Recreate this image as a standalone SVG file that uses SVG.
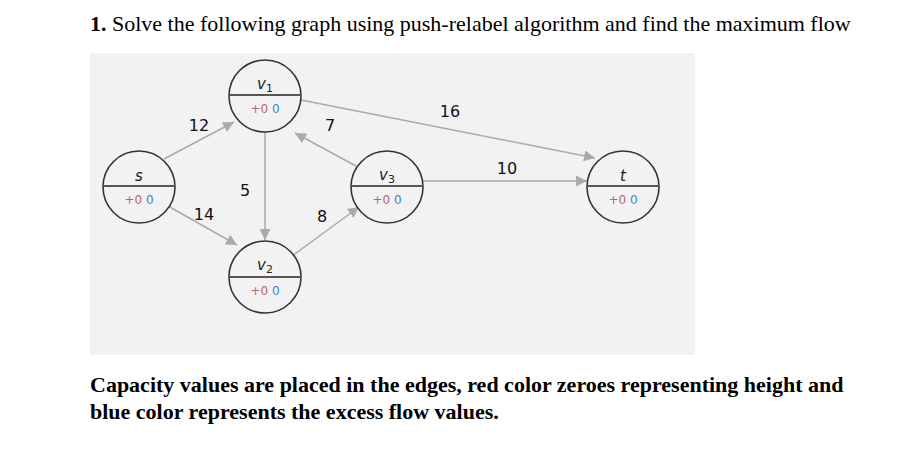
<svg xmlns="http://www.w3.org/2000/svg" width="924" height="465" viewBox="0 0 924 465">
<style>
.n{fill:#f2f2f2;stroke:#333;stroke-width:1.6}
.d{stroke:#555;stroke-width:2}
.lb{font-family:"DejaVu Sans",sans-serif;font-size:15px;font-style:italic;fill:#222;text-anchor:middle}
.h{font-family:"DejaVu Sans",sans-serif;font-size:12px;text-anchor:middle}
.e{stroke:#aaa;stroke-width:1.5;fill:none;marker-end:url(#a)}
.w{font-family:"DejaVu Sans",sans-serif;font-size:16px;fill:#111;text-anchor:middle}
.t{font-family:"Liberation Serif",serif;font-size:22px;fill:#000}
</style>
<defs><marker id="a" viewBox="0 0 10 10" refX="10" refY="5" markerWidth="11" markerHeight="11" markerUnits="userSpaceOnUse" orient="auto"><path d="M0,0L10,5L0,10z" fill="#aaa"/></marker></defs>
<rect width="924" height="465" fill="#fff"/>
<text class="t" x="90" y="31"><tspan font-weight="bold">1.</tspan> Solve the following graph using push-relabel algorithm and find the maximum flow</text>
<rect x="90" y="53" width="605" height="302" fill="#f2f2f2"/>
<g id="edges">
<path class="e" d="M164,159L234,122"/>
<path class="e" d="M168,206L237,245"/>
<path class="e" d="M265,132V240"/>
<path class="e" d="M356,166L295,133"/>
<path class="e" d="M292,256L359,207"/>
<path class="e" d="M301,100L595,158"/>
<path class="e" d="M423,181H587"/>
<text class="w" x="199" y="131">12</text>
<text class="w" x="204" y="220">14</text>
<text class="w" x="245" y="196">5</text>
<text class="w" x="330" y="131">7</text>
<text class="w" x="322" y="222">8</text>
<text class="w" x="450" y="117">16</text>
<text class="w" x="507" y="174">10</text>
</g>
<g id="s"><circle class="n" cx="139" cy="187" r="36"/><line class="d" x1="103" y1="186" x2="175" y2="186"/><text class="lb" x="139" y="181">s</text><text class="h" x="139" y="204"><tspan fill="#b56576">+0</tspan> <tspan fill="#3f7fd0">0</tspan></text></g>
<g id="v1"><circle class="n" cx="265" cy="96" r="36"/><line class="d" x1="229" y1="95" x2="301" y2="95"/><text class="lb" x="265" y="89">v<tspan font-size="11" font-style="normal" dy="3">1</tspan></text><text class="h" x="265" y="113"><tspan fill="#b56576">+0</tspan> <tspan fill="#3f7fd0">0</tspan></text></g>
<g id="v2"><circle class="n" cx="265" cy="277" r="36"/><line class="d" x1="229" y1="277" x2="301" y2="277"/><text class="lb" x="265" y="270">v<tspan font-size="11" font-style="normal" dy="3">2</tspan></text><text class="h" x="265" y="295"><tspan fill="#b56576">+0</tspan> <tspan fill="#3f7fd0">0</tspan></text></g>
<g id="v3"><circle class="n" cx="387" cy="187" r="36"/><line class="d" x1="351" y1="186" x2="423" y2="186"/><text class="lb" x="387" y="180">v<tspan font-size="11" font-style="normal" dy="3">3</tspan></text><text class="h" x="387" y="204"><tspan fill="#b56576">+0</tspan> <tspan fill="#3f7fd0">0</tspan></text></g>
<g id="t"><circle class="n" cx="623" cy="187" r="36"/><line class="d" x1="587" y1="186" x2="659" y2="186"/><text class="lb" x="623" y="181">t</text><text class="h" x="623" y="204"><tspan fill="#b56576">+0</tspan> <tspan fill="#3f7fd0">0</tspan></text></g>
<text class="t" x="90" y="392" font-weight="bold">Capacity values are placed in the edges, red color zeroes representing height and</text>
<text class="t" x="90" y="419" font-weight="bold">blue color represents the excess flow values.</text>
</svg>
